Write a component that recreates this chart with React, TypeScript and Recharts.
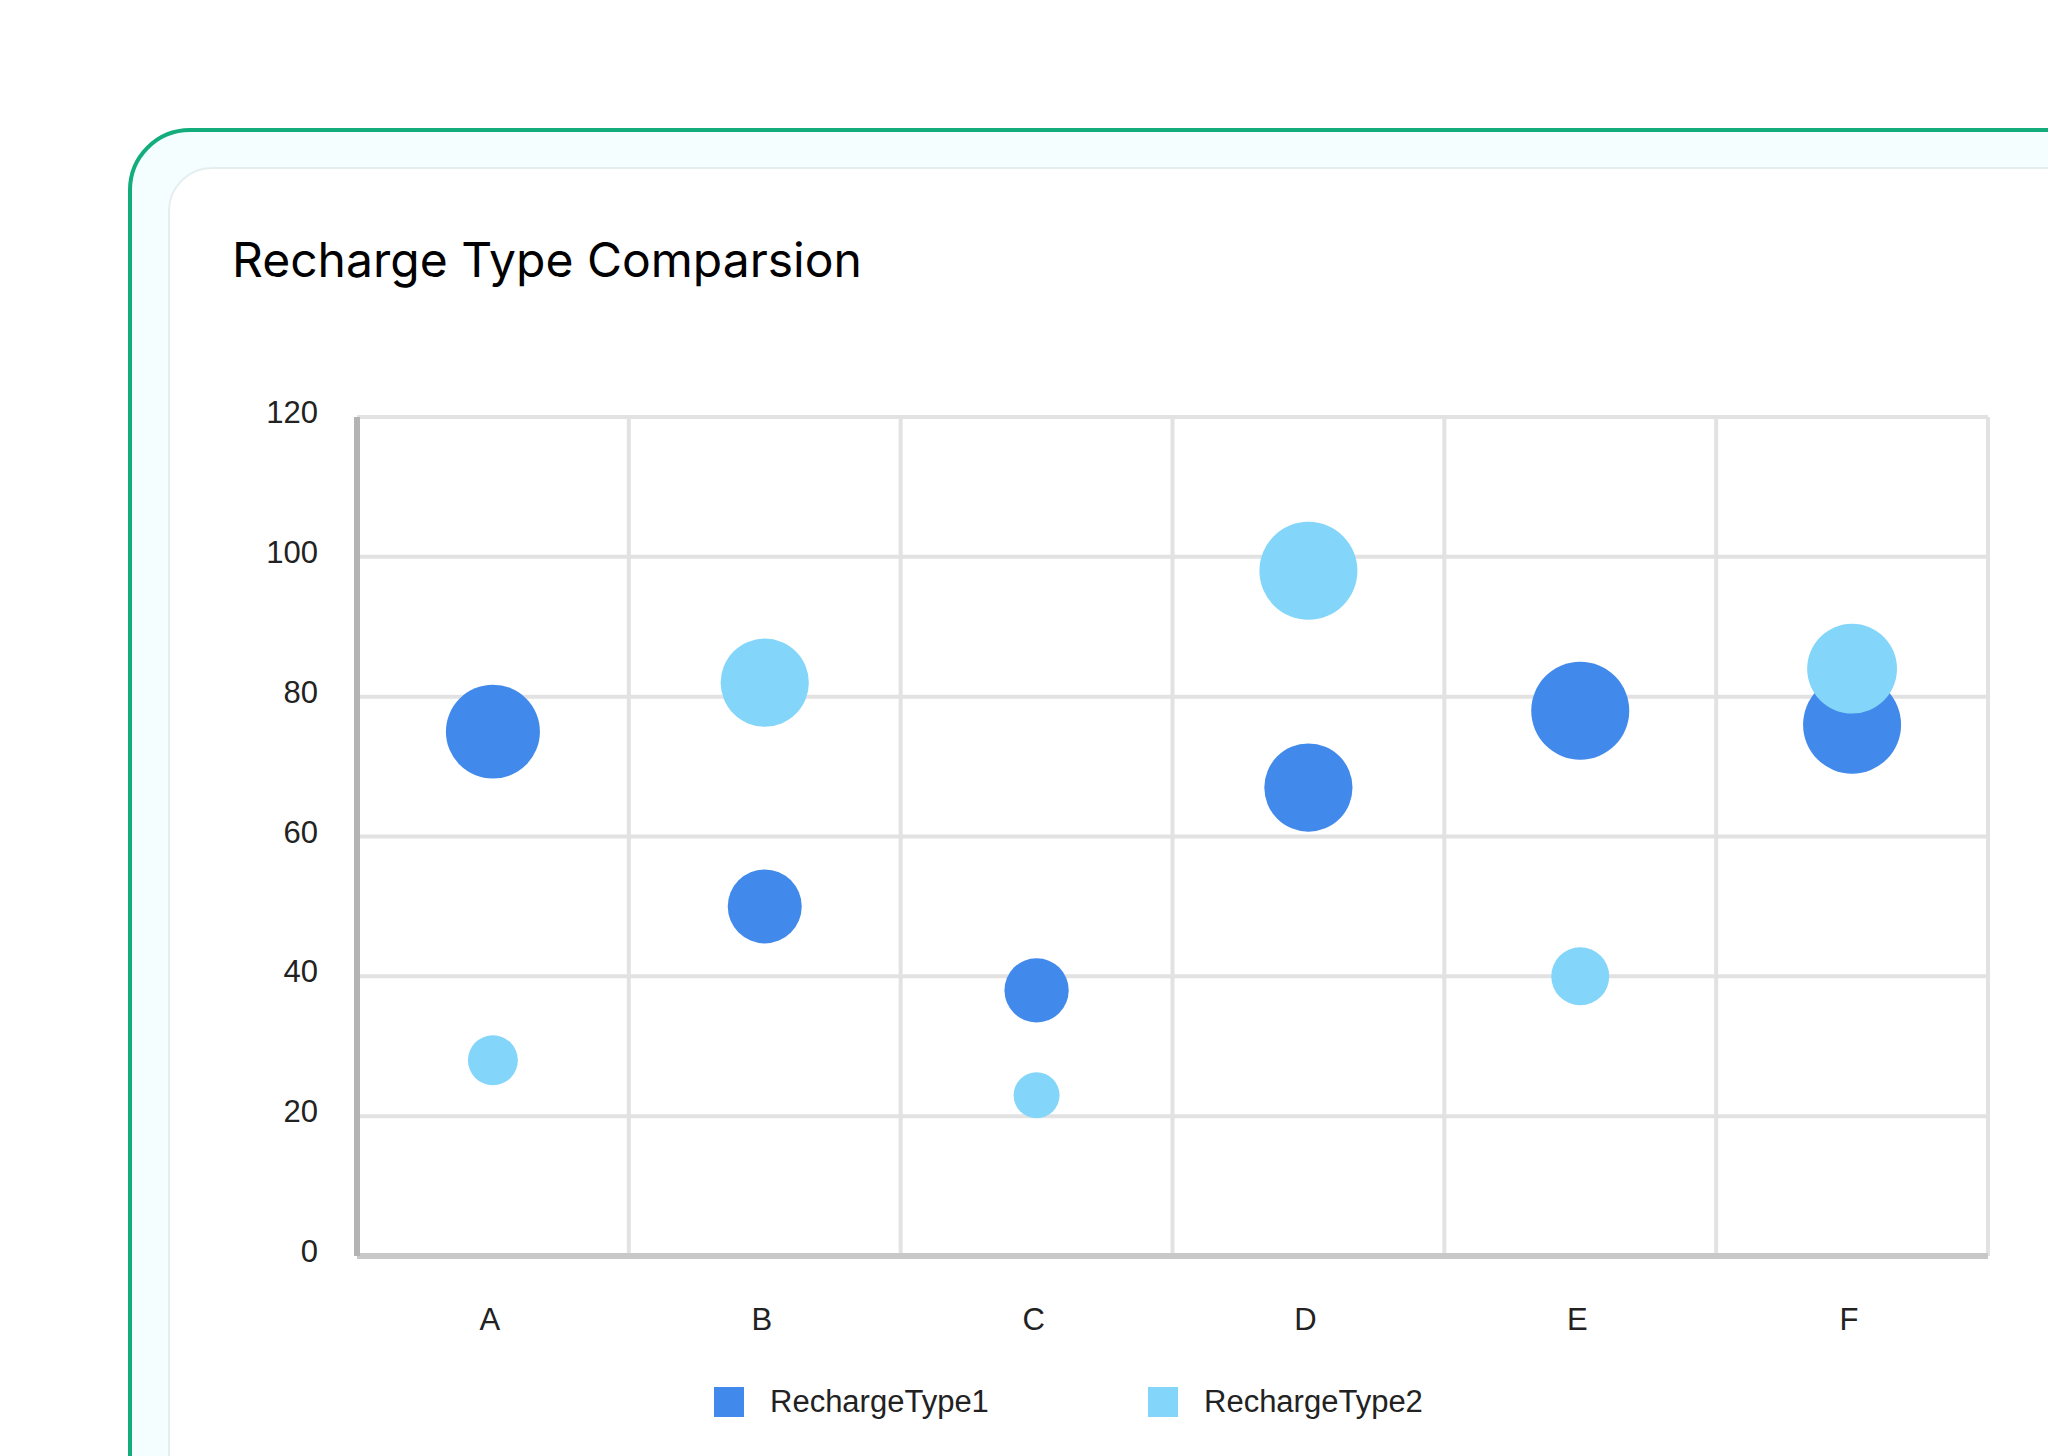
import React from 'react';
import { ScatterChart, Scatter, XAxis, YAxis, ZAxis, CartesianGrid, Legend } from 'recharts';

const categories = ['A', 'B', 'C', 'D', 'E', 'F'];
const rechargeType1Values = [75, 50, 38, 67, 78, 76];
const rechargeType1Sizes = [92, 57, 43, 81, 100, 100];
const rechargeType2Values = [28, 82, 23, 98, 40, 84];
const rechargeType2Sizes = [26, 81, 22, 100, 35, 84];
const yTicks = [0, 20, 40, 60, 80, 100, 120];
const seriesNames = ['RechargeType1', 'RechargeType2'];
const seriesColors = ['#4189EB', '#84D5FA'];
const titleText = 'Recharge Type Comparsion';

const toPoints = (values: number[], sizes: number[]) =>
  categories.map((c, i) => ({ name: c, x: i + 0.5, y: values[i], z: sizes[i] }));

const type1Data = toPoints(rechargeType1Values, rechargeType1Sizes);
const type2Data = toPoints(rechargeType2Values, rechargeType2Sizes);

const gridTicks = [...categories.map((_, i) => i), categories.length];
const labelTicks = categories.map((_, i) => i + 0.5);

const fontFamily = 'Liberation Sans, Arial, sans-serif';

const XTick = (props: any) => {
  const { x, y, payload } = props;
  return (
    <text x={x - 3} y={y} dy="0.71em" textAnchor="middle" fontFamily={fontFamily} fontSize={31} fill="#222">
      {categories[Math.floor(payload.value)]}
    </text>
  );
};

const YTick = (props: any) => {
  const { x, y, payload } = props;
  return (
    <text x={x} y={y - 5} dy="0.355em" textAnchor="end" fontFamily={fontFamily} fontSize={31} fill="#222">
      {payload.value}
    </text>
  );
};

const renderLegend = (props: any) => (
  <div style={{ display: 'flex', alignItems: 'center' }}>
    {(props.payload || []).map((entry: any, i: number) => (
      <div key={i} style={{ display: 'flex', alignItems: 'center', width: 434 }}>
        <div style={{ width: 30, height: 30, background: entry.color }} />
        <span
          style={{
            marginLeft: 26,
            fontFamily,
            fontSize: 31,
            color: '#222',
            lineHeight: '34px',
          }}
        >
          {entry.value}
        </span>
      </div>
    ))}
  </div>
);

export default function App() {
  return (
    <div
      style={{
        position: 'absolute',
        left: 0,
        top: 0,
        width: 2048,
        height: 1456,
        overflow: 'hidden',
        background: '#ffffff',
      }}
    >
      <div
        style={{
          position: 'absolute',
          left: 128,
          top: 128,
          width: 2100,
          height: 1500,
          border: '4px solid #13AD7B',
          borderRadius: 62,
          background: '#F4FDFF',
          boxSizing: 'border-box',
        }}
      />
      <div
        style={{
          position: 'absolute',
          left: 168,
          top: 167,
          width: 2100,
          height: 1500,
          border: '2px solid #E4EEEE',
          borderRadius: 44,
          background: '#ffffff',
          boxSizing: 'border-box',
        }}
      />
      <div
        style={{
          position: 'absolute',
          left: 232,
          top: 230,
          fontFamily: 'Inter, sans-serif',
          fontSize: 48,
          fontWeight: 400,
          color: '#000',
          lineHeight: '60px',
          whiteSpace: 'nowrap',
        }}
      >
        {titleText}
      </div>
      <div style={{ position: 'absolute', left: 0, top: 0 }}>
        <ScatterChart
          width={2048}
          height={1456}
          margin={{ top: 417, right: 60, bottom: 120, left: 297 }}
        >
          <CartesianGrid xAxisId="grid" stroke="#E2E2E2" strokeWidth={4} />
          <XAxis
            xAxisId="label"
            type="number"
            dataKey="x"
            domain={[0, categories.length]}
            ticks={labelTicks}
            interval={0}
            height={80}
            tickLine={false}
            tickSize={0}
            tickMargin={52}
            axisLine={{ stroke: '#C8C8C8', strokeWidth: 6 }}
            tick={<XTick />}
          />
          <XAxis
            xAxisId="grid"
            type="number"
            dataKey="x"
            domain={[0, categories.length]}
            ticks={gridTicks}
            allowDataOverflow
            height={0}
            hide
          />
          <YAxis
            type="number"
            dataKey="y"
            domain={[0, 120]}
            ticks={yTicks}
            interval={0}
            width={60}
            tickLine={false}
            tickSize={0}
            tickMargin={39}
            axisLine={{ stroke: '#B4B4B4', strokeWidth: 6 }}
            tick={<YTick />}
          />
          <ZAxis type="number" dataKey="z" domain={[0, 100]} range={[0, Math.PI * 49 * 49]} />
          <Legend
            verticalAlign="middle"
            align="center"
            layout="horizontal"
            wrapperStyle={{ top: 1385, left: 714, width: 900, height: 34 }}
            content={renderLegend}
          />
          <Scatter
            xAxisId="label"
            name={seriesNames[0]}
            data={type1Data}
            fill={seriesColors[0]}
            isAnimationActive={false}
          />
          <Scatter
            xAxisId="label"
            name={seriesNames[1]}
            data={type2Data}
            fill={seriesColors[1]}
            isAnimationActive={false}
          />
        </ScatterChart>
      </div>
    </div>
  );
}
